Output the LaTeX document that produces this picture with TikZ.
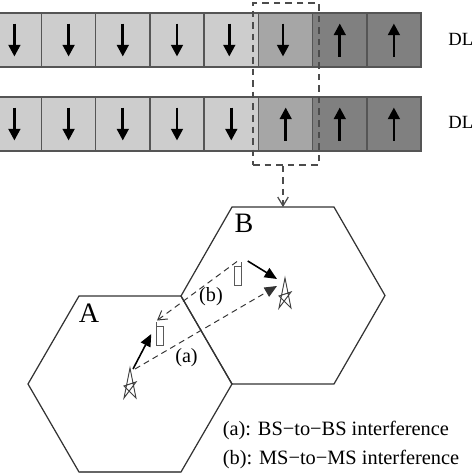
\documentclass[tikz,border=0pt]{standalone}
\usepackage{fontspec}
\setmainfont{Liberation Serif}
\usetikzlibrary{arrows.meta, positioning, calc}
\definecolor{celllight}{HTML}{CDCDCD}
\definecolor{cellmid}{HTML}{A6A6A6}
\definecolor{celldark}{HTML}{808080}
\definecolor{cellline}{HTML}{555555}
\tikzset{
  slotcell/.style={draw=cellline, line width=0.8pt, minimum width=1.083cm, minimum height=1.08cm, inner sep=0pt, outer sep=0pt},
  slotarrow/.style={line width=1.5pt, -{Triangle[length=6.6pt,width=6.6pt]}},
  hexline/.style={draw=black!80, line width=0.7pt},
  linkarrow/.style={line width=0.9pt, -{Triangle[length=7pt,width=6pt]}},
  leakline/.style={draw=black!80, line width=0.55pt, dash pattern=on 3.4pt off 2.4pt},
  selline/.style={draw=black!70, line width=0.7pt, dash pattern=on 3.8pt off 2.8pt},
  mobilebox/.style={draw=black!65, line width=0.55pt, minimum width=0.13cm, minimum height=0.38cm, inner sep=0pt},
  celltext/.style={font=\fontsize{16}{18}\selectfont, inner sep=0pt},
  dltext/.style={font=\fontsize{10.6}{12}\selectfont, anchor=east, inner sep=0pt},
  tagtext/.style={font=\fontsize{11.5}{13}\selectfont, inner sep=0pt},
  notetext/.style={font=\fontsize{11.6}{13}\selectfont, anchor=west, inner sep=0pt}
}
\newcommand{\basestar}[1]{\draw[black!75, line width=0.55pt] ($(#1)+(0,-15)$) -- ($(#1)+(6,15)$) -- ($(#1)+(-6,3)$) -- ($(#1)+(6,-1)$) -- ($(#1)+(-6,15)$) -- cycle;}
\begin{document}
\begin{tikzpicture}[x=0.02cm, y=-0.02cm]
  \useasboundingbox (0,0) rectangle (474,474);
  \begin{scope}
    \clip (0,0) rectangle (474,474);
    % Rows of slots
    \foreach \row/\ypos in {1/40, 2/124} {
      \foreach \col/\xpos/\shade in {0/14.4/celllight, 1/68.6/celllight, 2/122.8/celllight, 3/177/celllight, 4/231.3/celllight, 5/285.7/cellmid, 6/339.8/celldark, 7/393.9/celldark} {
        \node[slotcell, fill=\shade] (cell\row\col) at (\xpos,\ypos) {};
      }
    }
    % Slot directions
    \foreach \cellname/\shift in {10/0,11/0,12/0,13/0,14/-2,15/-2.7,20/0,21/0,22/0,23/0,24/0} {
      \draw[slotarrow] ($(cell\cellname.center)+(\shift,-16.5)$) -- ($(cell\cellname.center)+(\shift,16.5)$);
    }
    \foreach \cellname in {16,17,25,26,27} {
      \draw[slotarrow] ($(cell\cellname.center)+(0,16.5)$) -- ($(cell\cellname.center)+(0,-16.5)$);
    }
    \node[dltext] (labeldl) at (473.5,39) {DL};
    \node[dltext] (labeldltwo) at (473.5,122) {DL};

    % Selected slot
    \node[selline, minimum width=1.32cm, minimum height=3.24cm, inner sep=0pt] (selbox) at (286,84) {};
    \coordinate (hexentry) at (283,207);
    \draw[selline, -{Straight Barb[length=5pt,width=6pt]}] (selbox.south -| hexentry) -- (hexentry);

    % Cells
    \draw[hexline] (79,296) -- (181,296) -- (232,384) -- (181,472) -- (79,472) -- (28,384) -- cycle;
    \draw[hexline] (232,207) -- (334,207) -- (385,295.5) -- (334,384) -- (232,384) -- (181,296) -- cycle;
    \draw[line width=1pt, black!60] (79,472) -- (181,472);
    \node[celltext] (labela) at (89,313) {A};
    \node[celltext] (labelb) at (244,223) {B};

    % Stations and terminals
    \coordinate (stara) at (130,383);
    \coordinate (starb) at (285,293);
    \basestar{stara}
    \basestar{starb}
    \node[mobilebox] (mobilea) at (160,336) {};
    \node[mobilebox] (mobileb) at (238,276) {};
    \draw[black!65, line width=0.5pt] (mobilea.north west) -- ++(0,-4);
    \draw[black!65, line width=0.5pt] (mobileb.north east) -- ++(0,-4);
    \draw[linkarrow] ($(stara)+(3,-14)$) -- ($(mobilea.west)+(-5,-2)$);
    \draw[linkarrow] ($(mobileb.east)+(6,-15)$) -- ($(starb)+(-8,-14)$);
    \draw[leakline, -{Triangle[length=7pt,width=6pt]}] ($(stara)+(5,-14)$) -- ($(starb)+(-8,-7)$);
    \draw[leakline, -{Straight Barb[length=5pt,width=6pt]}] ($(mobileb.north)+(-1,-4.5)$) -- ($(mobilea.north)+(-3,-5.5)$);
    \node[tagtext] (tagb) at (211,297) {(b)};
    \node[tagtext] (taga) at (186.5,358) {(a)};

    % Legend
    \node[notetext] (notea) at (222.5,430) {(a): BS−to−BS interference};
    \node[notetext] (noteb) at (222.5,459) {(b): MS−to−MS interference};
  \end{scope}
\end{tikzpicture}
\end{document}
